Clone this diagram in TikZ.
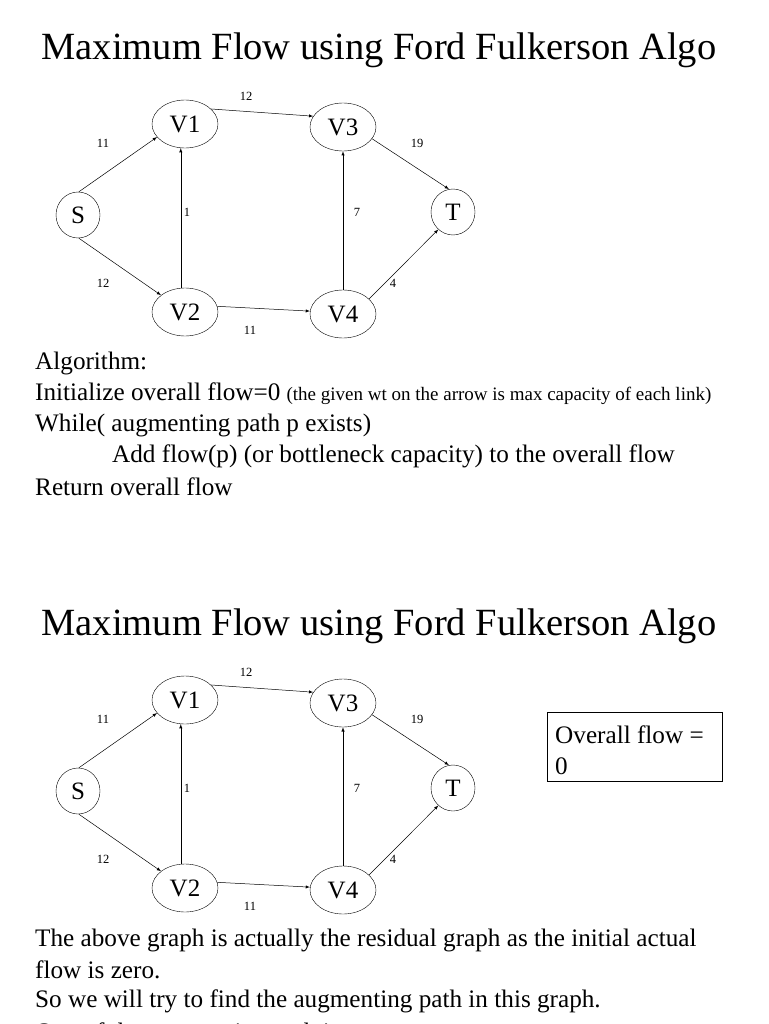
\documentclass[tikz,border=0pt]{standalone}
\usepackage{fontspec}
\setmainfont{Liberation Serif}
\usetikzlibrary{shapes.geometric}
\begin{document}
\begin{tikzpicture}[x=1pt,y=-1pt,
  vtx/.style={draw,ellipse,minimum width=66pt,minimum height=48pt,inner sep=0pt,font=\fontsize{25}{25}\selectfont},
  stv/.style={draw,ellipse,minimum width=44pt,minimum height=46pt,inner sep=0pt,font=\fontsize{25}{25}\selectfont},
  arr/.style={-latex,line width=0.5pt},
  wt/.style={font=\fontsize{12.5}{12.5}\selectfont},
  ttl/.style={font=\fontsize{38.5}{38.5}\selectfont},
  body/.style={font=\fontsize{25.2}{25.2}\selectfont,anchor=west,inner sep=0pt}]
\clip (0,0) rectangle (768,1024);
\useasboundingbox (0,0) rectangle (768,1024);
\newcommand\fgraph[2]{%
  \begin{scope}[yshift=-#2pt]
  \node[stv] (#1S) at (78,215) {S};
  \node[vtx] (#1V1) at (185,124) {V1};
  \node[vtx] (#1V3) at (343,127) {V3};
  \node[vtx] (#1V2) at (185,312) {V2};
  \node[vtx] (#1V4) at (343,314) {V4};
  \node[stv] (#1T) at (453,212) {T};
  \draw[arr] (#1S.88) -- (#1V1.205);
  \draw[arr] (#1S.272) -- (#1V2.145);
  \draw[arr] (#1V1.30) -- (#1V3.160);
  \draw[arr] (#1V2.100) -- (#1V1.260);
  \draw[arr] (#1V2.10) -- (#1V4.175);
  \draw[arr] (#1V4.90) -- (#1V3.270);
  \draw[arr] (#1V3.-22) -- (#1T.100);
  \draw[arr] (#1V4.30) -- (#1T.230);
  \node[wt] (#1w1) at (246,96) {12};
  \node[wt] (#1w2) at (103,143) {11};
  \node[wt] (#1w3) at (417,143) {19};
  \node[wt] (#1w4) at (187,212) {1};
  \node[wt] (#1w5) at (357,212) {7};
  \node[wt] (#1w6) at (103,283) {12};
  \node[wt] (#1w7) at (393,283) {4};
  \node[wt] (#1w8) at (250,330) {11};
  \end{scope}}
\node[ttl] (t1) at (379,50) {Maximum Flow using Ford Fulkerson Algo};
\fgraph{a}{0}
\node[body] (l1) at (35,363) {Algorithm:};
\node[body] (l2) at (35,394) {Initialize overall flow=0 {\fontsize{19}{19}\selectfont(the given wt on the arrow is max capacity of each link)}};
\node[body] (l3) at (35,425) {While( augmenting path p exists)};
\node[body] (l4) at (112,456) {Add flow(p) (or bottleneck capacity) to the overall flow};
\node[body] (l5) at (35,487) {Return overall flow};
\node[ttl] (t2) at (379,626) {Maximum Flow using Ford Fulkerson Algo};
\fgraph{b}{576}
\draw[line width=0.6pt] (547,712) rectangle (722,781);
\node[body] (o1) at (555,735) {Overall flow =};
\node[body] (o2) at (555,766) {0};
\node[body] (m1) at (35,940) {The above graph is actually the residual graph as the initial actual};
\node[body] (m2) at (35,970) {flow is zero.};
\node[body] (m3) at (35,1001) {So we will try to find the augmenting path in this graph.};
\node[body] (m4) at (35,1034) {One of the augmenting path is:};
\end{tikzpicture}
\end{document}
